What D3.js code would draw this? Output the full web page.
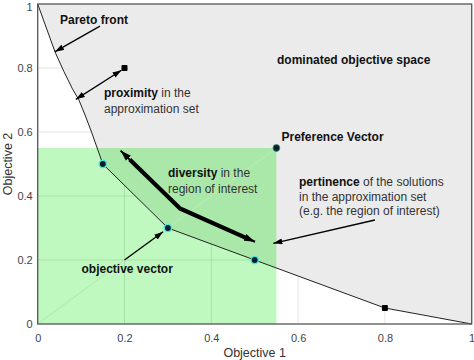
<!DOCTYPE html>
<html>
<head>
<meta charset="utf-8">
<script src="https://cdn.jsdelivr.net/npm/d3@7"></script>
<style>
  html, body { margin: 0; padding: 0; background: #fff; }
  svg { display: block; font-family: "Liberation Sans", Arial, sans-serif; }
</style>
</head>
<body>
<svg id="chart" width="474" height="360"></svg>
<script>
// ---- data ----
const xTicks = [0, 0.2, 0.4, 0.6, 0.8, 1];
const yTicks = [0, 0.2, 0.4, 0.6, 0.8, 1];
const frontX = [0, 0.04, 0.06, 0.08, 0.095, 0.11, 0.124, 0.137, 0.15, 0.3, 0.5, 0.8, 1];
const frontY = [1, 0.85, 0.79, 0.735, 0.70, 0.65, 0.60, 0.55, 0.5, 0.3, 0.2, 0.05, 0];
const solutionX = [0.15, 0.3, 0.5];
const solutionY = [0.5, 0.3, 0.2];
const preferenceX = [0.55];
const preferenceY = [0.55];
const squareX = [0.2, 0.8];
const squareY = [0.8, 0.05];
const xLabel = "Objective 1";
const yLabel = "Objective 2";

// ---- scales ----
const svg = d3.select("#chart");
const x = d3.scaleLinear().domain([0, 1]).range([37.7, 471.7]);
const y = d3.scaleLinear().domain([0, 1]).range([324, 4]);

const front = frontX.map((v, i) => [v, frontY[i]]);

const defs = svg.append("defs");
defs.append("clipPath").attr("id", "roi")
  .append("rect")
  .attr("x", x(0)).attr("y", y(preferenceY[0]))
  .attr("width", x(preferenceX[0]) - x(0))
  .attr("height", y(0) - y(preferenceY[0]));

function marker(id, len, half) {
  defs.append("marker").attr("id", id)
    .attr("markerUnits", "userSpaceOnUse")
    .attr("viewBox", `0 ${-half} ${len} ${2 * half}`)
    .attr("refX", len).attr("refY", 0)
    .attr("markerWidth", len).attr("markerHeight", 2 * half)
    .attr("orient", "auto-start-reverse")
    .append("path").attr("d", `M0,${-half}L${len},0L0,${half}Z`).attr("fill", "#000");
}
marker("head", 9, 3);
marker("headBig", 11, 3.6);

// plot background
svg.append("rect").attr("x", x(0)).attr("y", y(1))
  .attr("width", x(1) - x(0)).attr("height", y(0) - y(1)).attr("fill", "#fff");

// green region of interest
svg.append("rect")
  .attr("x", x(0)).attr("y", y(preferenceY[0]))
  .attr("width", x(preferenceX[0]) - x(0))
  .attr("height", y(0) - y(preferenceY[0]))
  .attr("fill", "#bff9bf");

// grid
const g = svg.append("g");
g.selectAll(".gx").data(xTicks.slice(1, -1)).join("line")
  .attr("x1", d => x(d)).attr("x2", d => x(d)).attr("y1", y(0)).attr("y2", y(1))
  .attr("stroke", "#000").attr("stroke-opacity", 0.1).attr("stroke-width", 1);
g.selectAll(".gy").data(yTicks.slice(1, -1)).join("line")
  .attr("y1", d => y(d)).attr("y2", d => y(d)).attr("x1", x(0)).attr("x2", x(1))
  .attr("stroke", "#000").attr("stroke-opacity", 0.1).attr("stroke-width", 1);

// dominated space
const domPoly = front.concat([[1, 1]]);
const polyLine = d3.line().x(d => x(d[0])).y(d => y(d[1]));
svg.append("path").attr("d", polyLine(domPoly) + "Z").attr("fill", "#ebebeb");
svg.append("path").attr("d", polyLine(domPoly) + "Z").attr("fill", "#aae8aa")
  .attr("clip-path", "url(#roi)");

// diagonal to preference vector
svg.append("line")
  .attr("x1", x(0)).attr("y1", y(0))
  .attr("x2", x(preferenceX[0])).attr("y2", y(preferenceY[0]))
  .attr("stroke", "#b2eeb2").attr("stroke-width", 1.2);

// Pareto front
svg.append("path").attr("d", polyLine(front)).attr("fill", "none")
  .attr("stroke", "#222").attr("stroke-width", 1);

// frame & axes
svg.append("rect").attr("x", x(0)).attr("y", y(1))
  .attr("width", x(1) - x(0)).attr("height", y(0) - y(1))
  .attr("fill", "none").attr("stroke", "#555").attr("stroke-width", 1.3);

const xAxis = svg.append("g").attr("transform", `translate(0,${y(0)})`)
  .call(d3.axisBottom(x).tickValues(xTicks).tickFormat(d3.format("~g")).tickSize(0).tickPadding(10));
const yAxis = svg.append("g").attr("transform", `translate(${x(0)},0)`)
  .call(d3.axisLeft(y).tickValues(yTicks).tickFormat(d3.format("~g")).tickSize(0).tickPadding(5));
[xAxis, yAxis].forEach(a => {
  a.select(".domain").remove();
  a.selectAll("text").attr("fill", "#444").attr("font-size", 11)
    .attr("font-family", "'Liberation Sans', Arial, sans-serif");
});
// keep the edge labels inside the window
yAxis.selectAll(".tick").filter(d => d === 1).select("text").attr("dy", "0.75em").attr("y", -2);
xAxis.selectAll(".tick").filter(d => d === 1).select("text").attr("text-anchor", "end").attr("x", 3);

svg.append("text").attr("x", (x(0) + x(1)) / 2).attr("y", 357)
  .attr("text-anchor", "middle").attr("font-size", 12.5).attr("fill", "#333").text(xLabel);
svg.append("text").attr("transform", `translate(12,${(y(0) + y(1)) / 2}) rotate(-90)`)
  .attr("text-anchor", "middle").attr("font-size", 12.5).attr("fill", "#333").text(yLabel);

// arrows
const arrowLine = d3.line().x(d => x(d[0])).y(d => y(d[1]));
function arrow(points, both, width, mk) {
  const p = svg.append("path").attr("d", arrowLine(points)).attr("fill", "none")
    .attr("stroke", "#000").attr("stroke-width", width).attr("stroke-linejoin", "round")
    .attr("marker-end", `url(#${mk})`);
  if (both) p.attr("marker-start", `url(#${mk})`);
}
arrow([[0.1435, 0.931], [0.04, 0.851]], false, 1.3, "head");
arrow([[0.088, 0.702], [0.193, 0.793]], true, 1.3, "head");
arrow([[0.2, 0.2], [0.289, 0.288]], false, 1.3, "head");
arrow([[0.777, 0.325], [0.543, 0.252]], false, 1.3, "head");
// diversity (thick)
svg.append("path").attr("d", arrowLine([[0.212, 0.514], [0.328, 0.361], [0.48, 0.269]]))
  .attr("fill", "none").attr("stroke", "#000").attr("stroke-width", 4.2)
  .attr("stroke-linejoin", "round");
arrow([[0.22, 0.503], [0.191, 0.542]], false, 1.8, "headBig");
arrow([[0.47, 0.275], [0.5007, 0.257]], false, 2, "headBig");

// points
svg.selectAll(".sol").data(solutionX.map((v, i) => [v, solutionY[i]])).join("circle")
  .attr("cx", d => x(d[0])).attr("cy", d => y(d[1])).attr("r", 3.6)
  .attr("fill", "#0b1f2a").attr("stroke", "#45e6e0").attr("stroke-width", 1.4);
svg.selectAll(".pref").data(preferenceX.map((v, i) => [v, preferenceY[i]])).join("circle")
  .attr("cx", d => x(d[0])).attr("cy", d => y(d[1])).attr("r", 3.4)
  .attr("fill", "#0a2028").attr("stroke", "#2a8a8a").attr("stroke-width", 0.8);
svg.selectAll(".sq").data(squareX.map((v, i) => [v, squareY[i]])).join("rect")
  .attr("x", d => x(d[0]) - 3).attr("y", d => y(d[1]) - 3)
  .attr("width", 6).attr("height", 6).attr("rx", 1).attr("fill", "#000");

// annotation texts
function label(px, py, parts) {
  const t = svg.append("text").attr("x", px).attr("y", py).attr("font-size", 12);
  parts.forEach(([s, bold]) => {
    t.append("tspan").text(s)
      .attr("font-weight", bold ? "bold" : "normal")
      .attr("fill", bold ? "#111" : "#333");
  });
}
label(60, 24, [["Pareto front", true]]);
label(277, 64, [["dominated objective space", true]]);
label(104, 97, [["proximity", true], [" in the", false]]);
label(104, 112.5, [["approximation set", false]]);
label(281.5, 140.5, [["Preference Vector", true]]);
label(168, 177, [["diversity", true], [" in the", false]]);
label(168, 193, [["region of interest", false]]);
label(299, 186, [["pertinence", true], [" of the solutions", false]]);
label(299, 200.5, [["in the approximation set", false]]);
label(299, 215, [["(e.g. the region of interest)", false]]);
label(81.5, 273, [["objective vector", true]]);
</script>
</body>
</html>
